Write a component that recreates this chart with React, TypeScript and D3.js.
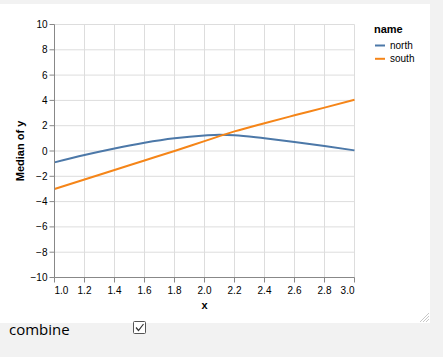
import React from "react";
import * as d3 from "d3";

const seriesNames = ["north", "south"];
const seriesColors = ["#4c78a8", "#f58518"];
const northX = [1.0, 1.2, 1.4, 1.6, 1.8, 2.0, 2.1, 2.2, 2.4, 2.6, 2.8, 3.0];
const northY = [-0.9, -0.32, 0.2, 0.65, 1.0, 1.22, 1.28, 1.25, 1.0, 0.72, 0.4, 0.05];
const southX = [1.0, 1.2, 1.4, 1.6, 1.8, 2.0, 2.2, 2.4, 2.6, 2.8, 3.0];
const southY = [-3.0, -2.25, -1.5, -0.75, 0.0, 0.78, 1.55, 2.2, 2.82, 3.43, 4.05];
const xTicks = [1.0, 1.2, 1.4, 1.6, 1.8, 2.0, 2.2, 2.4, 2.6, 2.8, 3.0];
const yTicks = [-10, -8, -6, -4, -2, 0, 2, 4, 6, 8, 10];

const FONT = "'Liberation Sans', Arial, sans-serif";

export default function App() {
  const left = 54.5, top = 24.5, w = 300, h = 253;
  const x = d3.scaleLinear().domain([1, 3]).range([left, left + w]);
  const y = d3.scaleLinear().domain([-10, 10]).range([top + h, top]);
  const fmtX = d3.format(".1f");
  const fmtY = d3.format("d");
  const line = d3
    .line<[number, number]>()
    .x((d) => x(d[0]))
    .y((d) => y(d[1]))
    .curve(d3.curveMonotoneX);
  const series = [
    northX.map((v, i) => [v, northY[i]] as [number, number]),
    southX.map((v, i) => [v, southY[i]] as [number, number]),
  ];
  return (
    <div style={{ position: "fixed", left: 0, top: 0, width: 443, height: 357 }}>
      <svg width={443} height={357} style={{ display: "block" }}>
        <rect x={0} y={0} width={443} height={357} fill="#f2f2f2" />
        <rect x={0} y={4} width={430} height={319} fill="#ffffff" />
        {/* grid */}
        <g stroke="#dddddd" strokeWidth={1}>
          {xTicks.map((t) => (
            <line key={"gx" + t} x1={x(t)} x2={x(t)} y1={top} y2={top + h} />
          ))}
          {yTicks.map((t) => (
            <line key={"gy" + t} x1={left} x2={left + w} y1={y(t)} y2={y(t)} />
          ))}
        </g>
        {/* lines */}
        {series.map((s, i) => (
          <path key={seriesNames[i]} d={line(s) || ""} fill="none" stroke={seriesColors[i]} strokeWidth={2} />
        ))}
        {/* x axis */}
        <g stroke="#888888" strokeWidth={1}>
          <line x1={left} x2={left + w} y1={top + h} y2={top + h} />
          {xTicks.map((t) => (
            <line key={"tx" + t} x1={x(t)} x2={x(t)} y1={top + h} y2={top + h + 5} />
          ))}
          <line x1={left} x2={left} y1={top} y2={top + h} />
          {yTicks.map((t) => (
            <line key={"ty" + t} x1={left - 5} x2={left} y1={y(t)} y2={y(t)} />
          ))}
        </g>
        <g fontFamily={FONT} fontSize={10} fill="#000">
          {xTicks.map((t, i) => (
            <text
              key={"lx" + t}
              x={x(t)}
              y={top + h + 16}
              textAnchor={i === 0 ? "start" : i === xTicks.length - 1 ? "end" : "middle"}
            >
              {fmtX(t)}
            </text>
          ))}
          {yTicks.map((t) => (
            <text key={"ly" + t} x={left - 7} y={y(t) + 3.5} textAnchor="end">
              {fmtY(t)}
            </text>
          ))}
        </g>
        <text x={left + w / 2} y={top + h + 31} textAnchor="middle" fontFamily={FONT} fontSize={11} fontWeight="bold">
          x
        </text>
        <text
          transform={`translate(24,${top + h / 2}) rotate(-90)`}
          textAnchor="middle"
          fontFamily={FONT}
          fontSize={11}
          fontWeight="bold"
        >
          Median of y
        </text>
        {/* legend */}
        <text x={374} y={33} fontFamily={FONT} fontSize={11} fontWeight="bold">
          name
        </text>
        {seriesNames.map((n, i) => (
          <g key={"leg" + n}>
            <line x1={375} x2={385} y1={45.5 + i * 13.3} y2={45.5 + i * 13.3} stroke={seriesColors[i]} strokeWidth={2} />
            <text x={390} y={49 + i * 13.3} fontFamily={FONT} fontSize={10}>
              {n}
            </text>
          </g>
        ))}
        {/* resize handle */}
        <g stroke="#c8c8c8" strokeWidth={1}>
          <line x1={420} y1={322} x2={429} y2={313} />
          <line x1={423} y1={322} x2={429} y2={316} />
          <line x1={426} y1={322} x2={429} y2={319} />
        </g>
        {/* widget */}
        <text x={9} y={335} fontFamily="'Open Sans', 'Noto Sans', sans-serif" fontSize={15} fill="#000">
          combine
        </text>
        <rect x={133.5} y={321.5} width={12} height={12} fill="#fff" stroke="#555" strokeWidth={1} rx={1} />
        <path d="M136,327.5 L138.5,330.5 L143.5,324" fill="none" stroke="#333" strokeWidth={1.2} />
      </svg>
    </div>
  );
}
